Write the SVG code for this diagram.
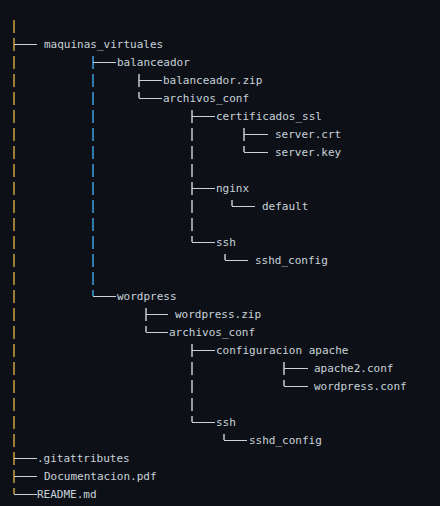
<svg xmlns="http://www.w3.org/2000/svg" width="440" height="506" viewBox="0 0 440 506">
<style>
text{font-family:"DejaVu Sans Mono","Liberation Mono",monospace;font-size:11px;fill:#c9d1d9}
.v{stroke:#b9bec6;stroke-width:1.6;stroke-dasharray:13 5;fill:none}
.v1{stroke:#c0963c}
.v2{stroke:#3b95d2}
.h{stroke:#c9d1d9;stroke-width:1;fill:none}
</style>
<rect width="440" height="506" fill="#0d1117"/>
<g id="connectors">
<line class="v v1" x1="14" y1="20" x2="14" y2="494"/>
<line class="v v2" x1="93" y1="56" x2="93" y2="296"/>
<line class="v" x1="139" y1="74" x2="139" y2="98"/>
<line class="v" x1="192" y1="110" x2="192" y2="242"/>
<line class="v" x1="244" y1="128" x2="244" y2="152"/>
<line class="v" x1="232" y1="200" x2="232" y2="206"/>
<line class="v" x1="225" y1="254" x2="225" y2="260"/>
<line class="v" x1="146" y1="308" x2="146" y2="332"/>
<line class="v" x1="192" y1="344" x2="192" y2="422"/>
<line class="v" x1="284" y1="362" x2="284" y2="386"/>
<line class="v" x1="224" y1="434" x2="224" y2="440"/>
<path class="h" d="M14 44.5H37M93 62.5H116M139 80.5H162M139 98.5H162M192 116.5H215M244 134.5H268M244 152.5H268M192 188.5H215M232 206.5H255M192 242.5H215M225 260.5H248M93 296.5H116M146 314.5H168M146 332.5H168M192 350.5H215M284 368.5H308M284 386.5H308M192 422.5H215M224 440.5H247M14 458.5H37M14 476.5H37M14 494.5H37"/>
</g>
<g id="maquinas_virtuales"><text x="44" y="48">maquinas_virtuales</text></g>
<g id="balanceador"><text x="117" y="66">balanceador</text></g>
<g id="balanceador_zip"><text x="163" y="84">balanceador.zip</text></g>
<g id="bal_archivos_conf"><text x="163" y="102">archivos_conf</text></g>
<g id="certificados_ssl"><text x="216" y="120">certificados_ssl</text></g>
<g id="server_crt"><text x="275" y="138">server.crt</text></g>
<g id="server_key"><text x="275" y="156">server.key</text></g>
<g id="nginx"><text x="216" y="192">nginx</text></g>
<g id="default"><text x="262" y="210">default</text></g>
<g id="bal_ssh"><text x="216" y="246">ssh</text></g>
<g id="bal_sshd_config"><text x="255" y="264">sshd_config</text></g>
<g id="wordpress"><text x="117" y="300">wordpress</text></g>
<g id="wordpress_zip"><text x="175" y="318">wordpress.zip</text></g>
<g id="wp_archivos_conf"><text x="169" y="336">archivos_conf</text></g>
<g id="configuracion_apache"><text x="216" y="354">configuracion apache</text></g>
<g id="apache2_conf"><text x="314" y="372">apache2.conf</text></g>
<g id="wordpress_conf"><text x="314" y="390">wordpress.conf</text></g>
<g id="wp_ssh"><text x="216" y="426">ssh</text></g>
<g id="wp_sshd_config"><text x="249" y="444">sshd_config</text></g>
<g id="gitattributes"><text x="37" y="462">.gitattributes</text></g>
<g id="documentacion"><text x="44" y="480">Documentacion.pdf</text></g>
<g id="readme"><text x="37" y="498">README.md</text></g>
</svg>
